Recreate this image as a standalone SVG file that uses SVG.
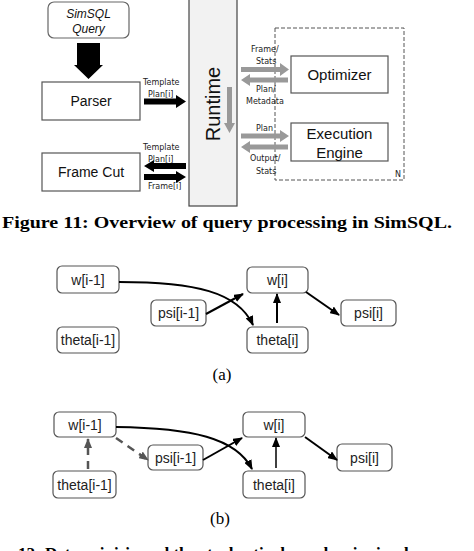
<svg xmlns="http://www.w3.org/2000/svg" width="474" height="551" viewBox="0 0 474 551">
<style>
.box{fill:#fff;stroke:#555;stroke-width:1.2}
.rbox{fill:#fff;stroke:#666;stroke-width:1.2}
.lbl{font-family:"Liberation Sans",Arial,sans-serif;fill:#111;text-anchor:middle}
.small{font-family:"DejaVu Sans","Liberation Sans",sans-serif;font-size:8px;fill:#222}
.blk{fill:#000}
.gry{fill:#999}
.node{font-family:"Liberation Sans",Arial,sans-serif;font-size:14px;fill:#222;text-anchor:middle}
.cap{font-family:"Liberation Serif","Times New Roman",serif;font-weight:bold;fill:#000}
.sub{font-family:"Liberation Serif","Times New Roman",serif;font-size:17px;fill:#000;text-anchor:middle}
.edge{fill:none;stroke:#000;stroke-width:2}
.thin{fill:none;stroke:#000;stroke-width:1.5}
.dash{fill:none;stroke:#555;stroke-width:2.5;stroke-dasharray:8,6}
</style>
<defs>
<marker id="ah" markerWidth="10" markerHeight="8" refX="9" refY="4" orient="auto" markerUnits="userSpaceOnUse"><path d="M0,0 L10,4 L0,8 Z" fill="#000"/></marker>
<marker id="ahg" markerWidth="10" markerHeight="8" refX="9" refY="4" orient="auto" markerUnits="userSpaceOnUse"><path d="M0,0 L10,4 L0,8 Z" fill="#555"/></marker>
</defs>

<!-- Figure 11 -->
<g id="query">
<rect x="48" y="2" width="81" height="36" rx="6" class="rbox"/>
<text x="88.5" y="18" class="lbl" font-size="12" font-style="italic">SimSQL</text>
<text x="88.5" y="33" class="lbl" font-size="12" font-style="italic">Query</text>
</g>
<g id="parser">
<rect x="42" y="82" width="98" height="38" class="box"/>
<text x="91" y="106" class="lbl" font-size="14">Parser</text>
</g>
<g id="framecut">
<rect x="42" y="153" width="98" height="38" class="box"/>
<text x="91" y="177" class="lbl" font-size="14">Frame Cut</text>
</g>
<g id="runtime">
<rect x="189" y="-2" width="48" height="208" fill="#f2f2f2" stroke="#444" stroke-width="1.2"/>
<text transform="translate(220,104) rotate(-90)" class="lbl" font-size="20">Runtime</text>
</g>
<g id="cluster">
<rect x="275" y="28" width="129" height="152" fill="none" stroke="#555" stroke-width="1" stroke-dasharray="4,2"/>
<text x="398" y="177" class="small" text-anchor="middle">N</text>
</g>
<g id="optimizer">
<rect x="291" y="56" width="97" height="37" class="box"/>
<text x="339.5" y="79.5" class="lbl" font-size="15">Optimizer</text>
</g>
<g id="engine">
<rect x="291" y="123" width="97" height="38" class="box"/>
<text x="339.5" y="139" class="lbl" font-size="15">Execution</text>
<text x="339.5" y="158" class="lbl" font-size="15">Engine</text>
</g>

<g id="connectors">
<polygon class="blk" points="77,43 100,43 100,65 103,65 88.5,79 74,65 77,65"/>
<polygon class="blk" points="144,98.5 176,98.5 176,95 186,101.5 176,108 176,104.5 144,104.5"/>
<polygon class="blk" points="186,163 154,163 154,160 144,166 154,172 154,169 186,169"/>
<polygon class="blk" points="144,174 176,174 176,171 186,177 176,183 176,180 144,180"/>
<polygon class="gry" points="227,87 232,87 232,123 235,123 229.5,133 224,123 227,123"/>
<polygon class="gry" points="241,67 280,67 280,63 289,69.5 280,76 280,72 241,72"/>
<polygon class="gry" points="288,77.5 250,77.5 250,74 241,80 250,86 250,82.5 288,82.5"/>
<polygon class="gry" points="241,133.5 280,133.5 280,130 289,136 280,142 280,138.5 241,138.5"/>
<polygon class="gry" points="288,144.5 250,144.5 250,141 241,147 250,153 250,149.5 288,149.5"/>
<text x="143" y="85" class="small">Template</text>
<text x="148" y="97" class="small">Plan[i]</text>
<text x="143" y="150" class="small">Template</text>
<text x="148" y="162" class="small">Plan[i]</text>
<text x="148" y="189" class="small">Frame[i]</text>
<text x="251" y="52" class="small">Frame/</text>
<text x="256" y="64" class="small">Stats</text>
<text x="256" y="92" class="small">Plan/</text>
<text x="246" y="104" class="small">Metadata</text>
<text x="256" y="131" class="small">Plan</text>
<text x="250" y="161" class="small">Output/</text>
<text x="256" y="174" class="small">Stats</text>
</g>

<text x="2" y="228" class="cap" font-size="17" textLength="450" lengthAdjust="spacingAndGlyphs">Figure 11: Overview of query processing in SimSQL.</text>

<!-- (a) -->
<g id="a_w_im1"><rect x="57" y="266" width="62" height="27" rx="5" class="box"/><text x="88" y="284.5" class="node">w[i-1]</text></g>
<g id="a_psi_im1"><rect x="151" y="300" width="55" height="26" rx="5" class="box"/><text x="178.5" y="318" class="node">psi[i-1]</text></g>
<g id="a_theta_im1"><rect x="57" y="327" width="62" height="26" rx="5" class="box"/><text x="88" y="345" class="node">theta[i-1]</text></g>
<g id="a_w_i"><rect x="247" y="267" width="61" height="26" rx="5" class="box"/><text x="277.5" y="285" class="node">w[i]</text></g>
<g id="a_theta_i"><rect x="247" y="327" width="61" height="26" rx="5" class="box"/><text x="277.5" y="345" class="node">theta[i]</text></g>
<g id="a_psi_i"><rect x="341" y="300" width="55" height="26" rx="5" class="box"/><text x="368.5" y="318" class="node">psi[i]</text></g>
<g id="a_edges">
<path class="edge" d="M119,282 C195,282 238,292 253,325" marker-end="url(#ah)"/>
<path class="edge" d="M206,314 L243,294" marker-end="url(#ah)"/>
<path class="edge" d="M277,323 L277,294" marker-end="url(#ah)"/>
<path class="edge" d="M306,292 L339,315" marker-end="url(#ah)"/>
</g>
<text x="222" y="380" class="sub">(a)</text>

<!-- (b) -->
<g id="b_w_im1"><rect x="54" y="412" width="62" height="25" rx="5" class="box"/><text x="85" y="429.5" class="node">w[i-1]</text></g>
<g id="b_psi_im1"><rect x="148" y="445" width="55" height="25" rx="5" class="box"/><text x="175.5" y="462.5" class="node">psi[i-1]</text></g>
<g id="b_theta_im1"><rect x="53" y="471" width="63" height="27" rx="5" class="box"/><text x="84.5" y="490" class="node">theta[i-1]</text></g>
<g id="b_w_i"><rect x="243" y="412" width="62" height="25" rx="5" class="box"/><text x="274" y="429.5" class="node">w[i]</text></g>
<g id="b_theta_i"><rect x="243" y="471" width="62" height="27" rx="5" class="box"/><text x="274" y="490" class="node">theta[i]</text></g>
<g id="b_psi_i"><rect x="337" y="444" width="55" height="27" rx="5" class="box"/><text x="364.5" y="462.5" class="node">psi[i]</text></g>
<g id="b_edges">
<path class="dash" d="M88,469 L88,439" marker-end="url(#ahg)"/>
<path class="dash" d="M116,438 L148,460" marker-end="url(#ahg)"/>
<path class="edge" d="M116,427 C192,428 236,438 252,469" marker-end="url(#ah)"/>
<path class="edge" d="M203,460 L242,438" marker-end="url(#ah)"/>
<path class="thin" d="M276,468 L276,438" marker-end="url(#ah)"/>
<path class="edge" d="M305,437 L337,460" marker-end="url(#ah)"/>
</g>
<text x="220" y="524" class="sub">(b)</text>

<text x="-34" y="559" class="cap" font-size="17">Figure 12: Determinisic and the stochastic dependencies in plan</text>
</svg>
